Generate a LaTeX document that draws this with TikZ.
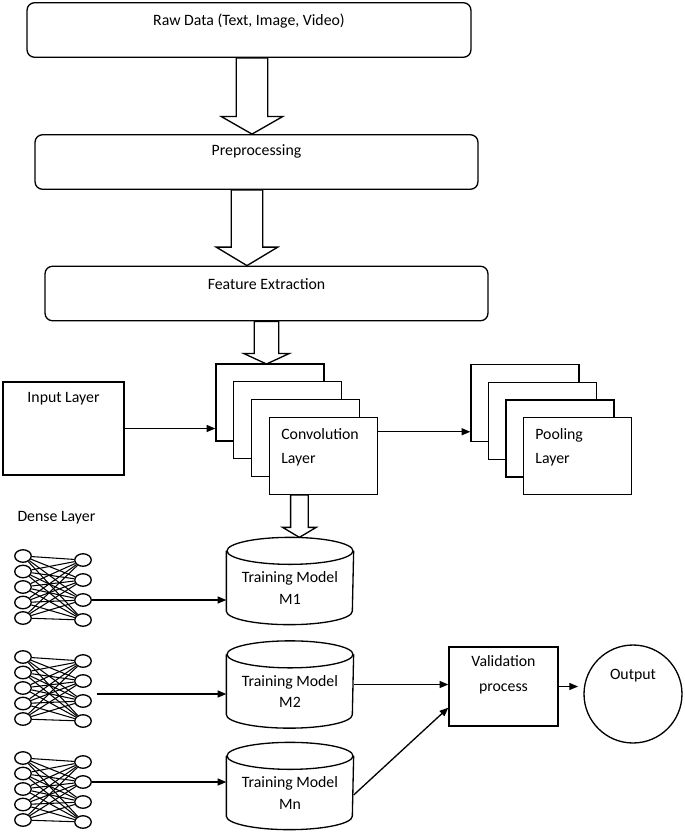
\documentclass[tikz,border=0pt]{standalone}
\usepackage{fontspec}
\setmainfont{Carlito}
\usetikzlibrary{shapes.geometric,arrows.meta,calc}

% Grosse flèche creuse : départ, arrivée, demi-largeur du corps, demi-largeur de la tête, longueur de la tête
\newcommand{\bigarrow}[5]{%
  \draw[fill=white] let \p1=(#1), \p2=(#2) in
    (\x1-#3,\y1) -- (\x1-#3,\y2+#5) -- (\x1-#4,\y2+#5) -- (\x1,\y2)
    -- (\x1+#4,\y2+#5) -- (\x1+#3,\y2+#5) -- (\x1+#3,\y1) -- cycle;}

% Contour de cylindre autour d'un nœud
\newcommand{\drum}[1]{%
  \draw ($(#1.north west)+(0,13.5)$) -- ($(#1.south west)+(0,-13.5)$)
    arc[start angle=180, end angle=360, x radius=1.26cm, y radius=0.27cm]
    -- ($(#1.north east)+(0,13.5)$);
  \draw ($(#1.north)+(0,13.5)$) ellipse[x radius=1.26cm, y radius=0.27cm];}

\tikzset{
  box/.style={draw, rounded corners=0.15cm, minimum width=8.86cm, minimum height=1.09cm},
  boxtext/.style={anchor=center, align=center, font=\fontsize{9}{14}\selectfont},
  layerbox/.style={draw, fill=white, minimum width=2.16cm, minimum height=1.54cm},
  layertext/.style={anchor=north west, align=left, xshift=0.12cm, yshift=-0.1cm, font=\fontsize{9}{13.6}\selectfont},
  model/.style={minimum width=2.52cm, minimum height=1.72cm, inner sep=0pt},
  modeltext/.style={anchor=center, align=center, yshift=-0.14cm, font=\fontsize{9}{12.5}\selectfont},
  neuron/.style={ellipse, draw, minimum width=0.33cm, minimum height=0.25cm, inner sep=0pt},
  arr/.style={-{Triangle[length=5pt,width=4pt]}},
}

\begin{document}
\begin{tikzpicture}[x=0.02cm, y=-0.02cm, font=\fontsize{9}{11}\selectfont, line width=0.75pt]
\useasboundingbox (0,0) rectangle (685,832);

% Étapes du haut
\node[box, minimum width=8.88cm, label={[boxtext, yshift=-0.38cm]north:Raw Data (Text, Image, Video)}] (raw) at (249,30) {};
\node[box, label={[boxtext, yshift=-0.34cm]north:Preprocessing}] (pre) at (256.5,162) {};
\node[box, label={[boxtext, yshift=-0.36cm]north:Feature Extraction}] (feat) at (266.5,293.5) {};

% Flèches creuses
\bigarrow{$(raw.south)+(3,0)$}{pre.north}{9pt}{17.5pt}{10pt}
\bigarrow{$(pre.south)+(-9.5,0)$}{feat.north}{9pt}{17.5pt}{10.5pt}
\bigarrow{feat.south}{$(feat.south |- 0,364)$}{7pt}{13pt}{6pt}

% Couche d'entrée
\node[draw, minimum width=2.42cm, minimum height=1.86cm, label={[boxtext, yshift=-0.34cm]north:Input Layer}] (input) at (63.5,428.5) {};

% Couches de convolution et de pooling
\foreach \i in {0,...,3} {
  \node[layerbox] (conv\i) at (270+17.8*\i,402.5+17.8*\i) {};
  \node[layerbox] (pool\i) at (525+17.5*\i,403+17.7*\i) {};
}
\node[layertext] (convtext) at (conv3.north west) {Convolution\\Layer};
\node[layertext] (pooltext) at (pool3.north west) {Pooling\\Layer};

\draw[arr] (input.east) -- (input.east -| conv0.west);
\coordinate (convout) at ($(conv3.north east)+(0,15)$);
\draw[arr] (convout) -- (convout -| pool0.west);

% Modèles d'entraînement
\node[model, label={[modeltext]center:Training Model\\M1}] (m1) at (290,581) {};
\node[model, label={[modeltext]center:Training Model\\M2}] (m2) at (290,684.5) {};
\node[model, label={[modeltext]center:Training Model\\Mn}] (mn) at (290,786) {};
\foreach \m in {m1,m2,mn} {\drum{\m}}

\bigarrow{$(conv3.south)+(-24,0)$}{m1.north}{5pt}{9.6pt}{5.7pt}

% Couches denses
\node[anchor=west] (dense) at (11,518) {Dense Layer};
\foreach \n/\y in {1/556,2/657,3/758} {
  \foreach \i in {1,...,5} \node[neuron] (d\n-l\i) at (23,\y+15.5*\i-15.5) {};
  \foreach \j in {1,...,4} \node[neuron] (d\n-r\j) at (83,\y+4+20*\j-20) {};
  \foreach \i in {1,...,5} \foreach \j in {1,...,4} \draw[line width=0.6pt] (d\n-l\i) -- (d\n-r\j);
}

\draw[arr] (d1-r3.east) -- (d1-r3 -| m1.west);
\coordinate (d2out) at (97,694);
\draw[arr] (d2out) -- (d2out -| m2.west);
\draw[arr] (d3-r2.east) -- (d3-r2 -| mn.west);

% Validation et sortie
\node[draw, minimum width=2.18cm, minimum height=1.58cm, label={[boxtext, yshift=-0.57cm]north:Validation\\process}] (val) at (503.5,686.5) {};
\node[draw, circle, minimum size=1.96cm, label={[boxtext, yshift=-0.62cm]north:Output}] (out) at (633,694) {};

\draw[arr] (m2.east) -- (m2.east -| val.west);
\draw[arr] ($(mn.east)+(0,9)$) -- ($(val.south west)+(0,-19)$);
\draw[arr, shorten >=3pt] (val.east) -- (val.east -| out.west);

\end{tikzpicture}
\end{document}
